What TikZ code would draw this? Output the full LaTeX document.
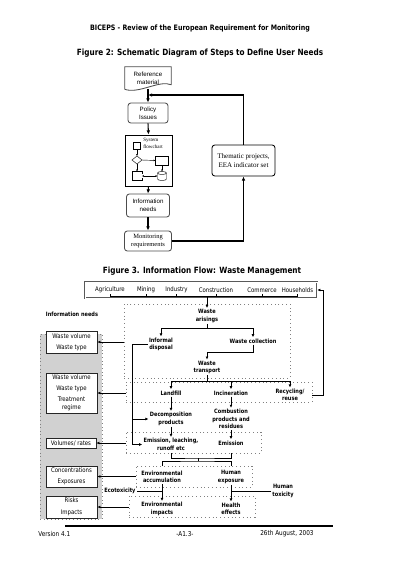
\documentclass[tikz,border=0pt]{standalone}
\usepackage{fontspec}
\setmainfont[FakeStretch=0.85]{DejaVu Sans}
\newfontfamily\arialf{Liberation Sans}
\newfontfamily\timesf{Liberation Serif}
\usetikzlibrary{arrows.meta, shapes.geometric}
\newcommand\pxu{0.025cm}

\begin{document}
\begin{tikzpicture}[x=\pxu, y=-\pxu,
  sz/.style 2 args={minimum width=#1*\pxu, minimum height=#2*\pxu},
  heading/.style={font=\fontsize{5.3}{6}\selectfont\bfseries, inner sep=0pt},
  figtitle/.style={font=\fontsize{6.1}{7}\selectfont\bfseries, inner sep=0pt},
  stepbox/.style={draw=black!70, line width=0.6pt, rounded corners=2pt, align=center, inner sep=0pt, font=\arialf\fontsize{4.4}{5.6}\selectfont},
  mini/.style={draw=black, line width=0.3pt, inner sep=0pt, outer sep=0pt},
  spot/.style={inner sep=0pt, outer sep=0pt},
  secbox/.style={draw=black!65, line width=0.4pt, double=white, double distance=0.4pt, inner sep=0pt},
  grpbox/.style={draw=black!50, dotted, line width=0.7pt, inner sep=0pt},
  panel/.style={draw=black!50, dotted, line width=0.6pt, fill=black!18, inner sep=0pt},
  needbox/.style={draw=black!85, line width=0.5pt, fill=white, align=center, inner sep=0pt, font=\fontsize{4.5}{5.4}\selectfont},
  flow/.style={font=\fontsize{4.2}{5.3}\selectfont\bfseries, align=center, inner sep=0.8pt},
  lab/.style={font=\fontsize{4.5}{5.4}\selectfont, align=center, inner sep=0.8pt},
  foot/.style={font=\fontsize{4.8}{6}\selectfont, inner sep=0pt},
  arrF/.style={-{Latex[length=3pt,width=2.6pt]}, line width=0.75pt},
  arr/.style={-{Latex[length=2.2pt,width=2pt]}, line width=0.5pt},
  arrm/.style={>={Latex[length=1.4pt,width=1.3pt]}, ->, line width=0.3pt},
  lnk/.style={line width=0.5pt},
]
\useasboundingbox (0,0) rectangle (400,567);

\node[heading] (hdr) at (200,28) {BICEPS - Review of the European Requirement for Monitoring};
\node[figtitle] (t2) at (200,53) {Figure 2: Schematic Diagram of Steps to Define User Needs};

% Figure 2: steps
\node[sz={46}{22}, align=center, inner sep=0pt, font=\arialf\fontsize{4.4}{5.6}\selectfont] (ref) at (148,78) {Reference\\material};
\draw[draw=black!70, line width=0.6pt] (ref.south west) -- (ref.north west) -- (ref.north east) -- ++(0,18)
  .. controls +(-12,-5) and +(14,5) .. (ref.south west);
\node[stepbox, sz={40}{20}] (pol) at (148,113) {Policy\\Issues};
\node[draw, line width=0.5pt, sz={47}{51}, inner sep=0pt] (sys) at (148.5,160.5) {};
\node[stepbox, sz={43}{23}] (need) at (148,205.5) {Information\\needs};
\node[stepbox, sz={47}{20}, font=\timesf\fontsize{4.6}{6}\selectfont] (mon) at (148,241) {Monitoring\\requirements};
\node[stepbox, sz={63}{31}, draw=black, font=\timesf\fontsize{5}{6.6}\selectfont] (thm) at (243.5,160.5) {Thematic projects,\\EEA indicator set};
\coordinate (fbk) at (148,95);
\draw[arrF] (ref.south) -- (pol.north);
\draw[arrF] (pol.south) -- (sys.north);
\draw[arrF] (sys.south) -- (need.north);
\draw[arrF] (need.south) -- (mon.north);
\draw[arrF] (mon.east) -| (thm.south);
\draw[arrF] (thm.north) |- (fbk);

% mini flowchart inside the system box
\node[anchor=west, align=left, inner sep=0pt, font=\timesf\fontsize{3.6}{5}\selectfont] (sysl) at (143,143.5) {System\\flowchart};
\node[mini, sz={7}{7}] (fa) at (137,145.5) {};
\node[mini, diamond, sz={10}{8}] (fdia) at (137,160) {};
\node[mini, sz={13}{9}] (frt) at (162,160.5) {};
\node[spot, sz={10}{9}] (fdoc) at (137,176) {};
\node[spot, sz={9}{9}] (fcy) at (162,176) {};
\draw[line width=0.3pt] (fdoc.east) ++(0,-2.5) -- (fdoc.north east) -- (fdoc.north west) -- (fdoc.south west) -- (fdoc.south east) -- ++(0,-2.5);
\draw[line width=0.3pt] (fcy.north west) ++(0,1.5) -- ++(0,6) arc[start angle=180, end angle=0, x radius=4.5, y radius=1.5] -- ++(0,-6);
\draw[line width=0.3pt] (fcy.north) ++(0,1.5) ellipse[x radius=4.5, y radius=1.5];
\draw[arrm] (fa.south) -- (fdia.north);
\draw[arrm] (fdia.east) -- (frt.west);
\draw[arrm] (fdia.south) -- (fdoc.north);
\draw[arrm] (frt.south) -- (fcy.north);
\draw[arrm, <->] (fdoc.east) -- (fcy.west);

% Figure 3: waste flow
\node[figtitle] (t3) at (202,271) {Figure 3. Information Flow: Waste Management};
\node[secbox, sz={232}{16}] (sect) at (201,290) {};
\foreach \n/\x/\t in {ag/110/Agriculture, mi/146/Mining, ind/176.5/Industry, con/216/Construction, com/262/Commerce, hh/297.5/Households}
  \node[lab] (\n) at (\x,290) {\t};
\coordinate (brk) at (207,296.5);
\draw[lnk] (ag.south) |- (brk) -| (hh.south);
\foreach \n in {mi,ind,con,com} \draw[lnk] (\n.south) -- (\n.south |- brk);

\node[grpbox, sz={166}{74}] (ga) at (207,341) {};
\node[flow] (aris) at (207,316) {Waste\\arisings};
\draw[arr] (brk) -- (aris);
\coordinate (sp1) at (207,328);
\node[flow] (infd) at (161,344.5) {Informal\\disposal};
\node[flow] (wcol) at (253,341) {Waste collection};
\node[flow] (wtr) at (207,367.5) {Waste\\transport};
\draw[lnk] (aris) -- (sp1);
\draw[arr] (sp1) -| (infd);
\draw[arr] (sp1) -| (wcol);
\coordinate (sp2) at (207,352);
\draw[arr] (wcol) |- (sp2) -- (wtr);
\coordinate (sp3) at (207,381);
\draw[lnk] (wtr) -- (sp3);

\node[grpbox, sz={186}{20}] (tre) at (219,392) {};
\node[flow] (lan) at (171,393) {Landfill};
\node[flow] (inc) at (231,393) {Incineration};
\node[flow] (rcy) at (290,395) {Recycling/\\reuse};
\draw[arr] (sp3) -| (lan);
\draw[arr] (sp3) -| (inc);
\draw[arr] (sp3) -| (rcy);
\coordinate (lpx) at (323,288);
\draw[arr] (tre.east |- rcy) -- (lpx |- rcy) |- (sect.east);

\node[flow] (dec) at (171,419) {Decomposition\\products};
\node[flow] (cmb) at (231,419) {Combustion\\products and\\residues};
\draw[arr] (lan) -- (dec);
\draw[arr] (inc) -- (cmb);

\node[grpbox, sz={135}{21}] (emb) at (193.5,442.5) {};
\node[flow] (eml) at (171,444.5) {Emission, leaching,\\runoff etc};
\node[flow] (emi) at (231,443) {Emission};
\draw[arr] (dec) -- (eml);
\draw[arr] (cmb) -- (emi);
\coordinate (ix) at (132,344.5);
\draw[arr] (infd.west) -- (ix) |- (eml.west);
\draw[arr] (ix |- dec.west) -- (dec.west);

\coordinate (jn1) at (198,458);
\coordinate (jn2) at (198,461);
\draw[lnk] (eml.south |- emb.south) |- (jn1) -| (emi.south |- emb.south);
\draw[lnk] (jn1) -- (jn2);
\node[grpbox, sz={116}{21}] (env) at (194,476.5) {};
\node[flow] (acc) at (162,477) {Environmental\\accumulation};
\node[flow] (hum) at (231,477) {Human\\exposure};
\draw[lnk] (acc.north |- env.north) |- (jn2) -| (hum.north |- env.north);

\node[grpbox, sz={126}{21}] (imb) at (192,506.5) {};
\node[flow] (eimp) at (162,509) {Environmental\\impacts};
\node[flow] (hea) at (231,509) {Health\\effects};
\draw[arr] (acc) -- (eimp);
\draw[arr] (hum) -- (hea);
\node[flow] (eco) at (120,491) {Ecotoxicity};
\node[flow] (htx) at (283,491) {Human\\toxicity};
\draw[lnk] (eco) -- (acc |- eco);
\draw[lnk] (htx) -- (hum |- htx);

% information needs column
\node[flow, font=\fontsize{4.2}{5}\selectfont\bfseries] (inh) at (72,314) {Information needs};
\node[panel, sz={62}{185}] (pan) at (71,426.5) {};
\node[needbox, sz={51}{22}] (n1) at (71.5,342) {Waste volume\\[2.4pt]Waste type};
\node[needbox, sz={51}{40}] (n2) at (71.5,393) {Waste volume\\[2.4pt]Waste type\\[2.4pt]Treatment\\regime};
\node[needbox, sz={50}{10}] (n3) at (71,443) {Volumes/ rates};
\node[needbox, sz={51}{21}] (n4) at (71.5,476.5) {Concentrations\\[2.4pt]Exposures};
\node[needbox, sz={51}{22}] (n5) at (71.5,507) {Risks\\[3pt]Impacts};
\draw[arr] (ga.west |- n1.east) -- (n1.east);
\draw[arr] (tre.west |- n2.east) -- (n2.east);
\draw[arr] (emb.west |- n3.east) -- (n3.east);
\draw[arr] (env.west |- n4.east) -- (n4.east);
\draw[arr] (imb.west |- n5.east) -- (n5.east);

% footer
\coordinate (rl) at (65,526);
\coordinate (rr) at (333,526);
\draw[line width=1.3pt] (rl) -- (rr);
\node[foot, anchor=west] (ver) at (38,534) {Version 4.1};
\node[foot] (pg) at (185,534) {-A1.3-};
\node[foot, anchor=west] (dat) at (260,534) {26th August, 2003};
\end{tikzpicture}
\end{document}
